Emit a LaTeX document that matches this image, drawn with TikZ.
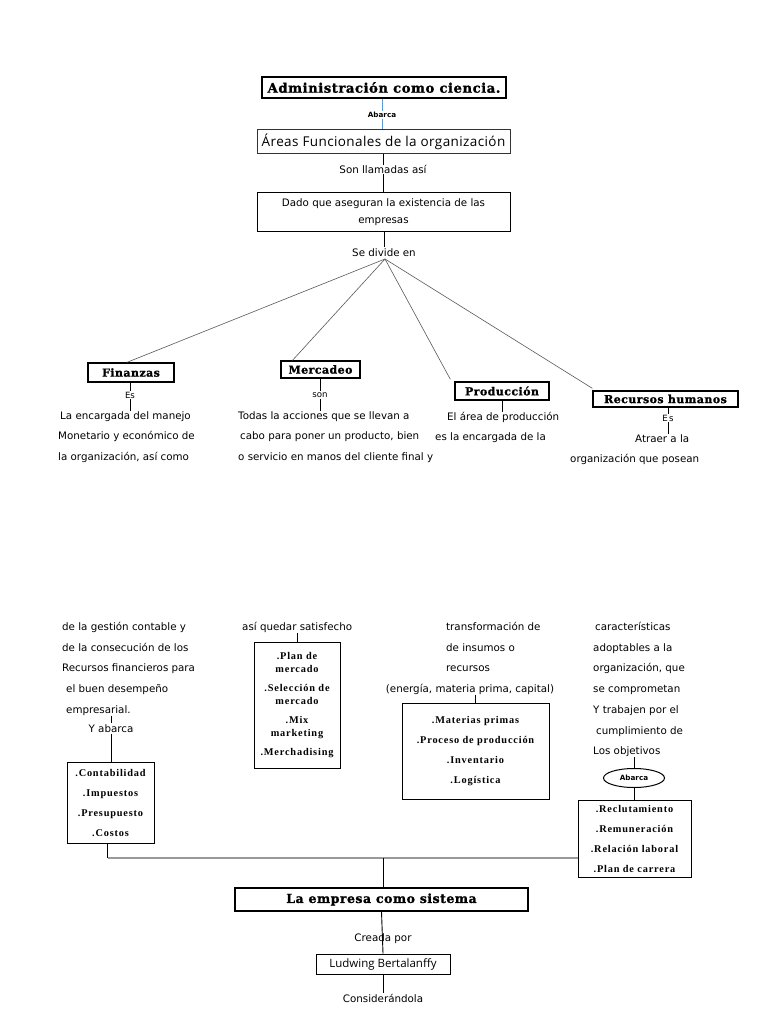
\documentclass[tikz,border=0pt]{standalone}
\usepackage{fontspec}
\usetikzlibrary{shapes.geometric,calc}
\newfontfamily\bodyf{DejaVu Sans}
\newfontfamily\lightf{Open Sans}[LetterSpace=3]
\newfontfamily\lightg{Open Sans}
\newfontfamily\headf{DejaVu Serif}[LetterSpace=4, BoldFeatures={FakeBold=1.2}]
\newfontfamily\itemf{Liberation Serif}[LetterSpace=8]
\definecolor{lnblue}{HTML}{5B9BD5}
\tikzset{
  hbox/.style={draw, line width=1.3pt, inner sep=0pt, font=\headf\bfseries\fontsize{11}{14}\selectfont},
  tbox/.style={draw, line width=1pt, inner sep=0pt},
  ibox/.style={draw, line width=1pt, inner sep=0pt, align=center, font=\itemf\bfseries\fontsize{10.3}{20}\selectfont},
  body/.style={inner sep=0pt, align=left, font=\bodyf\fontsize{10.3}{20.7}\selectfont},
  lbl/.style={inner sep=1pt, font=\bodyf\fontsize{10.3}{12}\selectfont},
  smlbl/.style={inner sep=1pt, font=\bodyf\fontsize{8.6}{10}\selectfont},
  tiny/.style={inner sep=1pt, font=\bodyf\bfseries\fontsize{7.2}{9}\selectfont},
  conn/.style={line width=0.9pt},
  branch/.style={draw=black!65, line width=0.6pt},
  hline/.style={draw=black!40, line width=1.6pt},
}
\begin{document}
\begin{tikzpicture}[x=1pt,y=-1pt]
\fill[white] (0,0) rectangle (768,1024);
\useasboundingbox (0,0) rectangle (768,1024);

% top chain
\node[hbox, line width=2pt, minimum width=244pt, minimum height=21pt, font=\headf\bfseries\fontsize{13.2}{15}\selectfont] (title) at (384,87.5) {Administración como ciencia.};
\node[tiny] (abarcaA) at (382,115) {Abarca};
\node[tbox, draw=black!80, minimum width=253pt, minimum height=24pt, font=\lightf\fontsize{13.5}{15}\selectfont] (areas) at (383.5,142) {Áreas Funcionales de la organización};
\node[lbl, inner sep=0pt] (llam) at (383,169.5) {Son llamadas así};
\node[tbox, minimum width=253pt, minimum height=39pt, align=center, font=\bodyf\fontsize{10.3}{17}\selectfont] (dado) at (383.5,212.5) {Dado que aseguran la existencia de las\\empresas};
\node[lbl] (divide) at (384,252.5) {Se divide en};
\coordinate (apex) at (385,259);

\draw[conn, draw=lnblue] (title.south -| abarcaA) -- (abarcaA) -- (abarcaA |- areas.north);
\draw[conn] (areas.south -| llam) -- (llam) -- (llam |- dado.north);
\draw[conn] (dado.south -| divide) -- (divide);

% area headings
\node[hbox, minimum width=86pt, minimum height=19pt] (fin) at (131,372.5) {Finanzas};
\node[hbox, minimum width=79pt, minimum height=17pt] (mer) at (320.5,369.5) {Mercadeo};
\node[hbox, minimum width=94pt, minimum height=18pt] (prod) at (502,391) {Producción};
\node[hbox, minimum width=145pt, minimum height=16pt] (rec) at (665.5,399) {Recursos humanos};

\draw[branch] (apex) -- ([xshift=-4pt]fin.north);
\draw[branch] (apex) -- ([xshift=-28pt]mer.north);
\draw[branch] (apex) -- ([xshift=-4pt,yshift=2pt]prod.north west);
\draw[branch] (apex) -- ([yshift=2pt]rec.north west);

% upper texts (base anchor = last line baseline)
\node[smlbl] (finEs) at (130,395) {Es};
\node[body, anchor=base west] (finA) at (58,460.4) {\hspace*{2pt}La encargada del manejo\\Monetario y económico de\\la organización, así como};
\draw[conn] (fin.south -| finEs) -- (finEs) -- (finEs |- finA.north);

\node[smlbl] (merSon) at (320,395) {son};
\node[body, anchor=base west] (merA) at (238,460.4) {Todas la acciones que se llevan a\\\hspace*{2pt}cabo para poner un producto, bien\\o servicio en manos del cliente final y};
\draw[conn] (mer.south -| merSon) -- (merSon) -- (merSon |- merA.north);

\node[body, anchor=base west] (prodA) at (435,440.7) {\hspace*{12pt}El área de producción\\es la encargada de la};
\draw[conn] (prod.south) -- (prod.south |- prodA.north);

\node[smlbl] (recEs) at (668,418) {E\kern1.5pt s};
\node[body, anchor=base west] (recA) at (570,462.7) {\hspace*{65pt}Atraer a la\\organización que posean};
\draw[conn] (rec.south -| recEs) -- (recEs) -- (recEs |- recA.north);

% lower texts
\node[body, anchor=base west] (finB) at (62,713.3) {de la gestión contable y\\de la consecución de los\\Recursos financieros para\\\hspace*{4pt}el buen desempeño\\\hspace*{4pt}empresarial.};
\node[lbl] (yab) at (111,728.5) {Y abarca};
\node[ibox, minimum width=87pt, minimum height=81pt] (conta) at (110.5,802.5) {.Contabilidad\\.Impuestos\\.Presupuesto\\.Costos};
\draw[conn] (finB.south -| yab) -- (yab) -- (yab |- conta.north);

\node[body, anchor=base west] (merB) at (242,630.5) {así quedar satisfecho};
\node[ibox, minimum width=86pt, minimum height=126pt, font=\itemf\bfseries\fontsize{10.3}{13}\selectfont] (merBox) at (297,705) {.Plan de\\mercado\\[6pt].Selección de\\mercado\\[6pt].Mix\\marketing\\[6pt].Merchadising};
\draw[conn] (merB.south -| merBox.north) -- (merBox.north);

\node[body, anchor=base west] (prodB) at (446,671.9) {transformación de\\de insumos o\\recursos};
\node[body, anchor=base] (prodC) at (470,692.5) {(energía, materia prima, capital)};
\node[ibox, minimum width=147pt, minimum height=96pt] (prodBox) at (475.5,751) {.Materias primas\\.Proceso de producción\\.Inventario\\.Logística};
\draw[conn] (prodC.south -| prodBox.north) -- (prodBox.north);

\node[body, anchor=base west] (recB) at (593,754.7) {\hspace*{2pt}características\\adoptables a la\\organización, que\\se comprometan\\Y trabajen por el\\\hspace*{3pt}cumplimiento de\\Los objetivos};
\node[draw, ellipse, line width=1pt, minimum width=61pt, minimum height=19pt, inner sep=0pt, font=\bodyf\bfseries\fontsize{7.2}{9}\selectfont] (abarcaB) at (634,778) {Abarca};
\node[ibox, minimum width=113pt, minimum height=77pt] (recBox) at (634.5,838.5) {.Reclutamiento\\.Remuneración\\.Relación laboral\\.Plan de carrera};
\draw[conn] (recB.south -| abarcaB) -- (abarcaB);
\draw[conn] (abarcaB.south) -- (abarcaB.south |- recBox.north);

% bottom
\coordinate (jl) at (107.5,858);
\coordinate (jn) at (383,858);
\draw[conn] (jl |- conta.south) -- (jl);
\draw[hline] (jl) -- (jn -| recBox.west);
\node[hbox, minimum width=293pt, minimum height=23pt, font=\headf\bfseries\fontsize{12.5}{15}\selectfont] (emp) at (381.5,899.5) {La empresa como sistema};
\draw[conn] (jn) -- (jn |- emp.north);
\node[tbox, minimum width=134pt, minimum height=20pt, font=\lightg\fontsize{11.5}{14}\selectfont] (lud) at (383,964) {Ludwing Bertalanffy};
\draw[conn] (emp.south) -- (lud.north);
\node[lbl] (creada) at (383,939) {Creada por};
\node[lbl] (consid) at (383,998) {Considerándola};
\draw[conn] (lud.south) -- (consid);
\end{tikzpicture}
\end{document}
